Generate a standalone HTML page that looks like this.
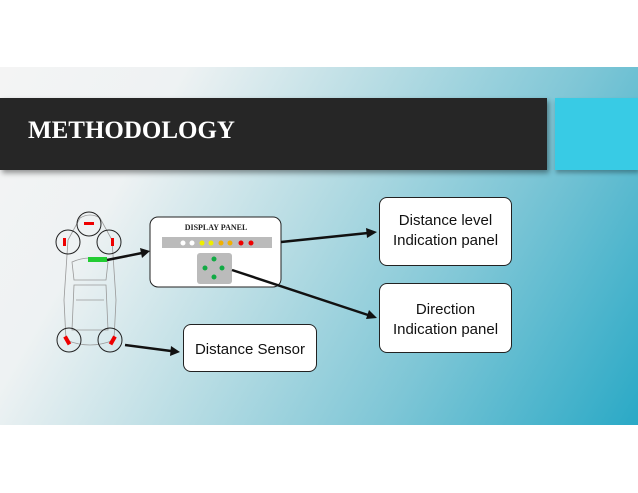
<!DOCTYPE html>
<html><head><style>
body{margin:0;width:638px;height:493px;background:#fff;position:relative;overflow:hidden;font-family:"Liberation Sans",sans-serif}
.slide{position:absolute;left:0;top:67px;width:638px;height:358px;background:linear-gradient(120deg,#f4f4f4 0%,#eef2f3 22%,#b9dde4 45%,#7ec6d6 70%,#2aa9c6 100%)}
.title{position:absolute;left:0;top:98px;width:547px;height:72px;background:#262626;box-shadow:2px 3px 5px rgba(0,0,0,.4)}
.title span{position:absolute;left:28px;top:19px;font-family:"Liberation Serif",serif;font-weight:bold;font-size:25px;color:#fff}
.cyan{position:absolute;left:555px;top:98px;width:83px;height:72px;background:#38cbe5;box-shadow:1px 3px 4px rgba(0,0,0,.3)}
.box{position:absolute;background:#fff;border:1px solid #222;border-radius:8px;text-align:center;font-size:15px;color:#111;line-height:20px;box-sizing:border-box}
</style></head><body>
<div class="slide"></div>
<div class="title"><span>METHODOLOGY</span></div>
<div class="cyan"></div>
<div class="box" style="left:379px;top:197px;width:133px;height:69px;padding-top:13px">Distance level<br>Indication panel</div>
<div class="box" style="left:379px;top:283px;width:133px;height:70px;padding-top:16px">Direction<br>Indication panel</div>
<div class="box" style="left:183px;top:324px;width:134px;height:48px;padding-top:15px">Distance Sensor</div>
<svg width="638" height="493" style="position:absolute;left:0;top:0">
<rect x="150" y="217" width="131" height="70" rx="8" fill="#fff" stroke="#222"/>
<text x="216" y="230" font-family="Liberation Serif" font-weight="bold" font-size="8" text-anchor="middle" fill="#222">DISPLAY PANEL</text>
<rect x="162" y="237" width="110" height="11" fill="#bbb"/>
<g>
<circle cx="183" cy="243" r="2.5" fill="#fff"/><circle cx="192" cy="243" r="2.5" fill="#fff"/>
<circle cx="202" cy="243" r="2.5" fill="#ee0"/><circle cx="211" cy="243" r="2.5" fill="#ee0"/>
<circle cx="221" cy="243" r="2.5" fill="#f0b000"/><circle cx="230" cy="243" r="2.5" fill="#f0b000"/>
<circle cx="241" cy="243" r="2.5" fill="#e00"/><circle cx="251" cy="243" r="2.5" fill="#e00"/>
</g>
<rect x="197" y="253" width="35" height="31" rx="3" fill="#bbb"/>
<circle cx="214" cy="259" r="2.5" fill="#1a4"/><circle cx="205" cy="268" r="2.5" fill="#1a4"/><circle cx="222" cy="268" r="2.5" fill="#1a4"/><circle cx="214" cy="277" r="2.5" fill="#1a4"/>
<!-- car -->
<g fill="none" stroke="#999" stroke-width="0.8">
<path d="M80 218 Q90 212 100 218 L112 240 L116 300 L114 340 Q90 350 66 340 L64 300 L68 240 Z"/>
<path d="M72 262 Q90 254 108 262 L106 280 L74 280 Z"/>
<path d="M74 285 L106 285 L108 330 L72 330 Z"/>
<path d="M76 300 L104 300"/>
</g>
<rect x="88" y="257" width="19" height="5" fill="#2c3"/>
<g fill="none" stroke="#222" stroke-width="1">
<circle cx="89" cy="224" r="12"/><circle cx="68" cy="242" r="12"/><circle cx="109" cy="242" r="12"/>
<circle cx="69" cy="340" r="12"/><circle cx="110" cy="340" r="12"/>
</g>
<g fill="#e00">
<rect x="84" y="222" width="10" height="3"/><rect x="63" y="238" width="3" height="8"/><rect x="111" y="238" width="3" height="8"/>
<rect x="65" y="336" width="4" height="9" transform="rotate(-30 67 340)"/><rect x="111" y="336" width="4" height="9" transform="rotate(30 113 340)"/>
</g>
<g stroke="#111" stroke-width="2.5" fill="#111">
<line x1="107" y1="260" x2="142" y2="253"/><polygon points="150,251 140,248 142,258" stroke="none"/>
<line x1="281" y1="242" x2="368" y2="233"/><polygon points="377,232 366,228 367,238" stroke="none"/>
<line x1="232" y1="270" x2="368" y2="315"/><polygon points="377,318 369,310 366,319" stroke="none"/>
<line x1="125" y1="345" x2="171" y2="351"/><polygon points="180,352 171,346 170,356" stroke="none"/>
</g>
</svg>
</body></html>
